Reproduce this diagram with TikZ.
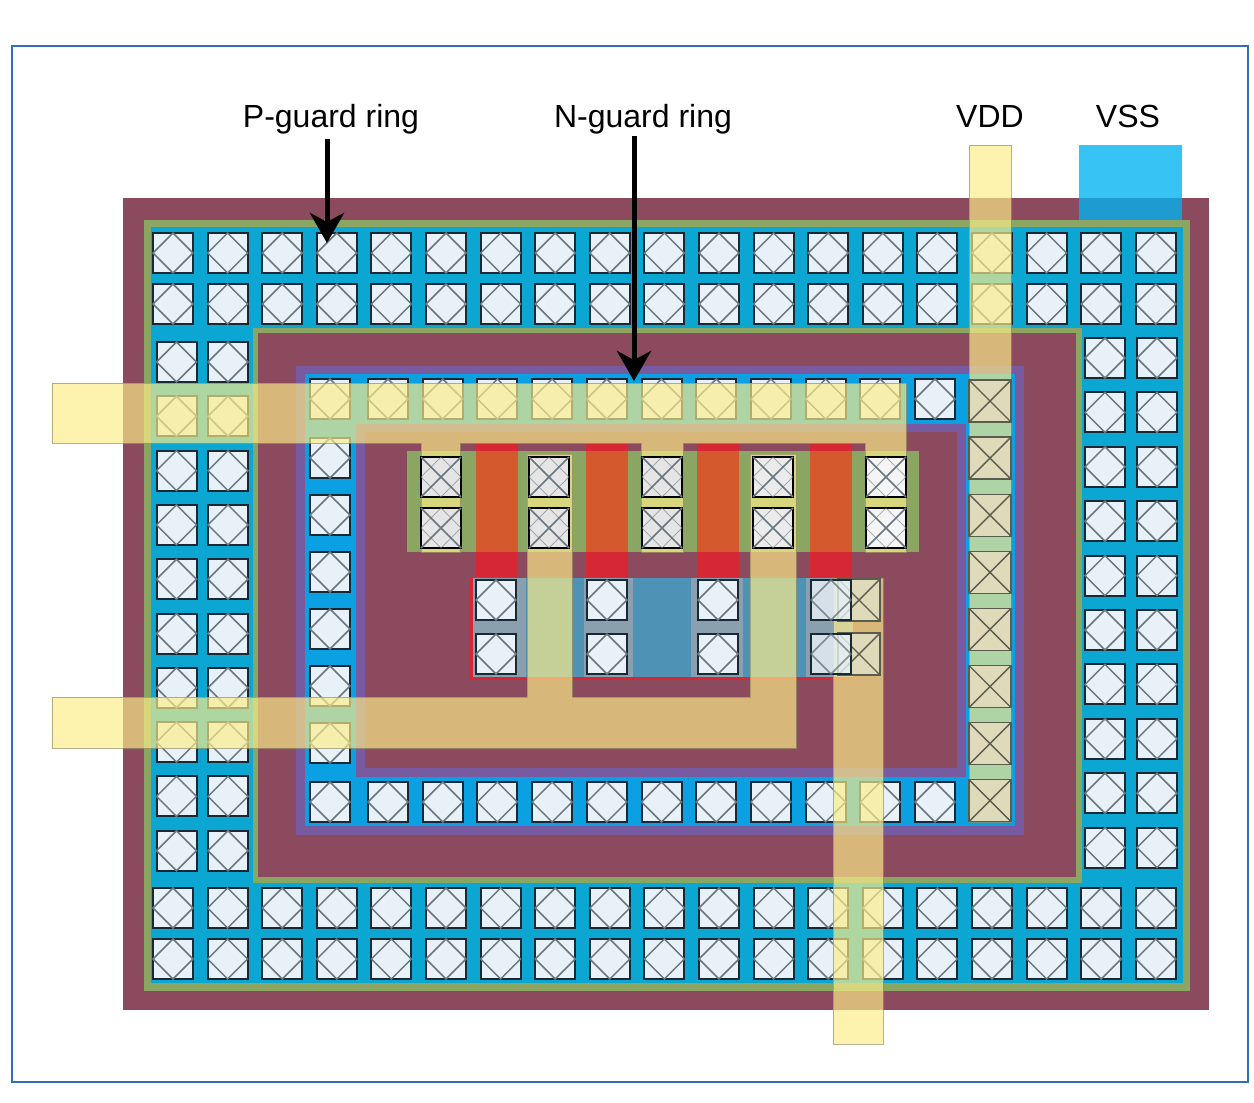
\documentclass[tikz,border=0pt]{standalone}
\usepackage{fontspec}
\setmainfont{Liberation Sans}
\usetikzlibrary{arrows.meta}

\definecolor{framec}{RGB}{48,112,178}
\definecolor{substc}{RGB}{139,74,93}
\definecolor{ringgreen}{RGB}{138,166,98}
\definecolor{ringcyan}{RGB}{11,167,210}
\definecolor{ringblue}{RGB}{10,160,225}
\definecolor{ringpurple}{RGB}{120,90,160}
\definecolor{gatered}{RGB}{214,40,52}
\definecolor{gateorange}{RGB}{212,90,45}
\definecolor{activeblue}{RGB}{78,147,181}
\definecolor{activegray}{RGB}{138,160,175}
\definecolor{metalc}{RGB}{252,237,137}
\definecolor{metaledge}{RGB}{150,145,100}
\definecolor{vssc}{RGB}{0,178,242}
\definecolor{contc}{RGB}{232,241,247}
\definecolor{contedge}{RGB}{24,40,52}
\definecolor{diamc}{RGB}{105,118,128}
\definecolor{vboxc}{RGB}{222,218,186}
\definecolor{vedge}{RGB}{90,92,78}

% contact with a diamond
\newcommand{\dcont}[2]{
    \draw[contbox] (#1+1,#2+1) rectangle ++(40,40);
    \draw[diam] (#1+21,#2+1) -- (#1+41,#2+21) -- (#1+21,#2+41) -- (#1+1,#2+21) -- cycle;
}
% contact with a cross and a diamond
\newcommand{\xcont}[3]{
    \draw[contbox, fill=#3, draw=black] (#1+1,#2+1) rectangle ++(40,40);
    \draw[diam, line width=1pt, opacity=.55] (#1+21,#2+1) -- (#1+41,#2+21) -- (#1+21,#2+41) -- (#1+1,#2+21) -- cycle;
    \draw[diam] (#1+1,#2+1) -- (#1+41,#2+41) (#1+41,#2+1) -- (#1+1,#2+41);
}
% contact with a cross, on the top metal
\newcommand{\vcont}[2]{
    \draw[vbox] (#1,#2) rectangle ++(42,42);
    \draw[vbox, fill=none] (#1,#2) -- (#1+42,#2+42) (#1+42,#2) -- (#1,#2+42);
}

\begin{document}
\begin{tikzpicture}[x=1pt, y=-1pt]
    \useasboundingbox (0,0) rectangle (1254,1103);

    \tikzstyle{contbox} = [fill=contc, draw=contedge, line width=2pt]
    \tikzstyle{diam} = [draw=diamc, line width=1.5pt]
    \tikzstyle{vbox} = [fill=vboxc, draw=vedge, line width=1.4pt]
    \tikzstyle{metal} = [fill=metalc, fill opacity=.68, draw=metaledge, draw opacity=.7, line width=.7pt]
    \tikzstyle{label} = [font=\fontsize{32}{36}\selectfont, inner sep=0pt, anchor=base]
    \tikzstyle{pointer} = [draw=black, line width=5pt, -{Stealth[length=30pt, width=34pt, inset=9pt]}]

    % Frame
    \draw[framec, line width=1.2pt] (12,46) rectangle (1248,1082);

    % Substrate
    \fill[substc] (123,198) rectangle (1209,1010);

    % P-guard ring
    \fill[ringgreen] (144,220) rectangle (1190,991);
    \fill[ringcyan] (151,227) rectangle (1183,983);
    \fill[ringgreen] (253,328) rectangle (1082,883);
    \fill[substc] (258,333) rectangle (1076,877);

    % N-guard ring
    \fill[ringpurple] (296,366) rectangle (1024,835);
    \fill[ringblue] (305,374) rectangle (1015,826);
    \fill[ringpurple] (356,424) rectangle (966,777);
    \fill[substc] (365,432) rectangle (957,768);

    % Upper device
    \fill[ringgreen] (407,451) rectangle (919,552);
    \foreach \gx in {476,586,697,810} {
        \fill[gatered] (\gx,444) rectangle ++(41.5,133);
        \fill[gateorange] (\gx,451) rectangle ++(41.5,101);
    }

    % Lower device
    \fill[gatered] (470,578) rectangle (856,680);
    \fill[activeblue] (473,578) rectangle (853,677);
    \foreach \ax/\aw in {473/53,584/49,691/52,806/47} {
        \fill[activegray] (\ax,578) rectangle ++(\aw,99);
    }

    % Contacts of the P-guard ring
    \foreach \i in {0,...,18} {
        \dcont{152+54.6*\i}{232}
        \dcont{152+54.6*\i}{283}
        \dcont{152+54.6*\i}{887}
        \dcont{152+54.6*\i}{938}
    }
    \foreach \i in {0,...,9} {
        \dcont{155.5}{341+54.3*\i}
        \dcont{207}{341+54.3*\i}
        \dcont{1084}{337+54.4*\i}
        \dcont{1136}{337+54.4*\i}
    }

    % Contacts of the N-guard ring
    \dcont{309}{378}
    \dcont{309}{781}
    \foreach \i in {0,...,10} {
        \dcont{367+54.7*\i}{378}
        \dcont{367+54.7*\i}{781}
    }
    \foreach \i in {0,...,5} {
        \dcont{309}{437+57*\i}
    }

    % Contacts of the lower device
    \foreach \cx in {475,586,697} {
        \dcont{\cx}{579}
        \dcont{\cx}{633}
    }

    % Metal: upper comb
    \draw[metal] (52,383) -- (906,383) -- (906,552) -- (865,552) -- (865,443)
        -- (683,443) -- (683,552) -- (641,552) -- (641,443) -- (460,443)
        -- (460,552) -- (421,552) -- (421,443) -- (52,443) -- cycle;

    % Metal: lower comb
    \draw[metal] (52,697) -- (527,697) -- (527,454) -- (572,454) -- (572,697)
        -- (750,697) -- (750,454) -- (796,454) -- (796,748) -- (52,748) -- cycle;

    % Metal: output
    \draw[metal] (833,578) rectangle (883,1044);

    % Metal: VDD
    \draw[metal] (969,145) rectangle (1011,822);

    % VSS
    \fill[vssc, fill opacity=.78] (1079,145) rectangle (1182,220);

    % Contacts on the metal
    \foreach \i in {0,...,7} {
        \vcont{969}{380+57.1*\i}
    }
    \vcont{838}{579}
    \vcont{838}{633}
    \foreach \cy in {579,633} {
        \draw[contbox, fill opacity=.8] (811,\cy+1) rectangle ++(40,40);
        \draw[diam, opacity=.8] (831,\cy+1) -- (851,\cy+21) -- (831,\cy+41) -- (811,\cy+21) -- cycle;
    }

    % Contacts of the upper device
    \foreach \cx/\cc in {420/black!10,528/black!10,641/black!10,752/black!8,865/black!4} {
        \xcont{\cx}{456}{\cc}
        \xcont{\cx}{507}{\cc}
    }

    % Labels
    \node[label] (pguard) at (331,127) {P-guard ring};
    \node[label] (nguard) at (643,127) {N-guard ring};
    \node[label] (vdd) at (990,127) {VDD};
    \node[label] (vss) at (1128,127) {VSS};

    % Arrows
    \coordinate (ptop) at (327,139);
    \coordinate (ptip) at (327,243);
    \coordinate (ntop) at (634,136);
    \coordinate (ntip) at (634,381);
    \draw[pointer] (ptop) -- (ptip);
    \draw[pointer] (ntop) -- (ntip);

\end{tikzpicture}
\end{document}
